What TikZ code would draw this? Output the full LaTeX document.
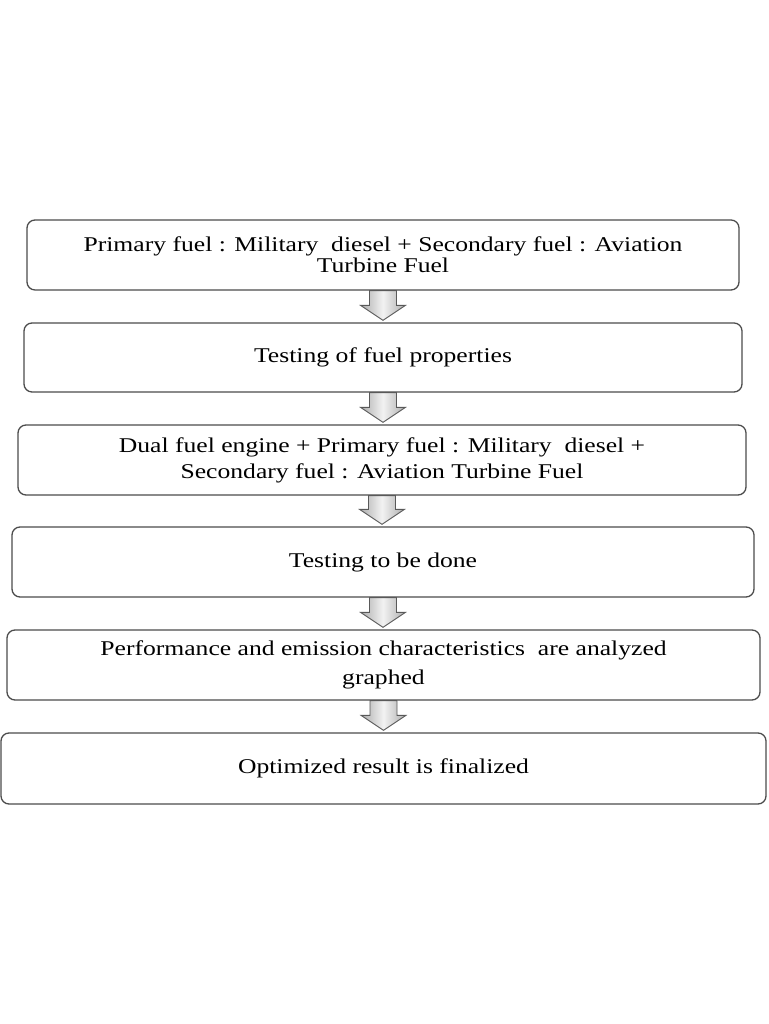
\documentclass[tikz,border=0pt]{standalone}
\usepackage{fontspec}
\setmainfont{Liberation Serif}
\usepackage{graphicx}
\usetikzlibrary{calc}
\newcommand{\wline}[1]{\scalebox{1.22}[1]{#1}}

\begin{document}
\begin{tikzpicture}[x=1pt,y=1pt]
\tikzset{
  flowbox/.style={draw=black!70, line width=1.3pt, rounded corners=8pt, inner sep=0pt, align=center, font=\fontsize{21}{21}\selectfont},
  flowarrow/.style={draw=black!65, line width=0.9pt, left color=gray!65, right color=gray!65, middle color=gray!10}
}
\useasboundingbox (0,0) rectangle (768,1024);
% Kotak alur
\node[flowbox, minimum width=712pt, minimum height=70pt] (b1) at (383,769) {\wline{Primary fuel : Military\ \ diesel + Secondary fuel : Aviation}\\\wline{Turbine Fuel}};
\node[flowbox, minimum width=718pt, minimum height=69pt] (b2) at (383,666.5) {\wline{Testing of fuel properties}};
\node[flowbox, minimum width=728pt, minimum height=70pt] (b3) at (382,564) {\wline{Dual fuel engine + Primary fuel : Military\ \ diesel +}\\[5pt]\wline{Secondary fuel : Aviation Turbine Fuel}};
\node[flowbox, minimum width=742pt, minimum height=70pt] (b4) at (383,462) {\wline{Testing to be done}};
\node[flowbox, minimum width=753pt, minimum height=70pt] (b5) at (383.5,359) {\wline{Performance and emission characteristics\ \ are analyzed}\\[8pt]\wline{graphed}};
\node[flowbox, minimum width=765pt, minimum height=71pt] (b6) at (383.5,255.5) {\wline{Optimized result is finalized}};
% Panah blok
\foreach \a/\b in {b1/b2,b2/b3,b3/b4,b4/b5,b5/b6}
  \draw[flowarrow] let \p1=(\a.south), \p2=(\b.north) in
    (\x1-13.5pt,\y1) -- (\x1+13.5pt,\y1) -- (\x1+13.5pt,\y2+17pt) -- (\x1+22.5pt,\y2+17pt)
    -- (\x1,\y2+2pt) -- (\x1-22.5pt,\y2+17pt) -- (\x1-13.5pt,\y2+17pt) -- cycle;
\end{tikzpicture}
\end{document}
